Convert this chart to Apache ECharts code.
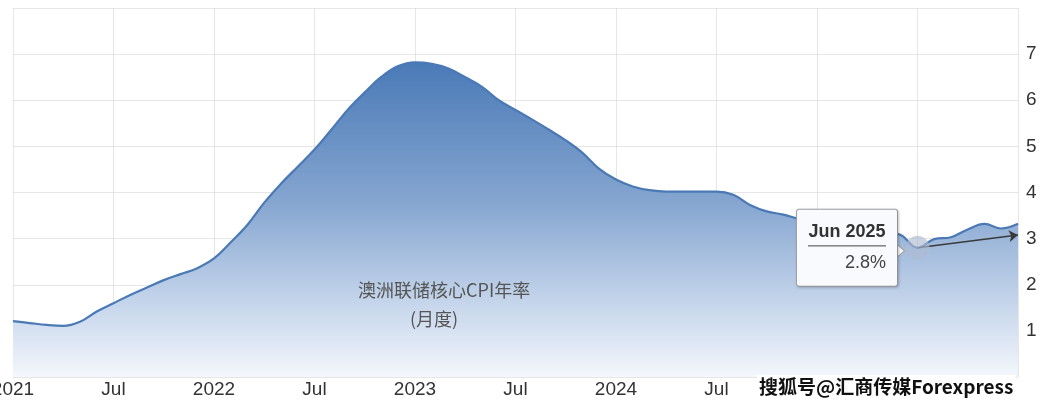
<!DOCTYPE html>
<html><head><meta charset="utf-8">
<script src="https://cdn.jsdelivr.net/npm/echarts@6/dist/echarts.min.js"></script>
<style>html,body{margin:0;padding:0;background:#fff}#c{width:1045px;height:410px}</style>
</head><body><div id="c"></div>
<script>
// Month-end observations, Dec 2020 .. Dec 2025
const months = [
  'Dec 2020',
  'Jan 2021','Feb 2021','Mar 2021','Apr 2021','May 2021','Jun 2021','Jul 2021','Aug 2021','Sep 2021','Oct 2021','Nov 2021','Dec 2021',
  'Jan 2022','Feb 2022','Mar 2022','Apr 2022','May 2022','Jun 2022','Jul 2022','Aug 2022','Sep 2022','Oct 2022','Nov 2022','Dec 2022',
  'Jan 2023','Feb 2023','Mar 2023','Apr 2023','May 2023','Jun 2023','Jul 2023','Aug 2023','Sep 2023','Oct 2023','Nov 2023','Dec 2023',
  'Jan 2024','Feb 2024','Mar 2024','Apr 2024','May 2024','Jun 2024','Jul 2024','Aug 2024','Sep 2024','Oct 2024','Nov 2024','Dec 2024',
  'Jan 2025','Feb 2025','Mar 2025','Apr 2025','May 2025','Jun 2025','Jul 2025','Aug 2025','Sep 2025','Oct 2025','Nov 2025','Dec 2025'
];
const values = [
  1.21,
  1.17, 1.13, 1.11, 1.20, 1.42, 1.60, 1.78, 1.94, 2.10, 2.23, 2.36, 2.57,
  2.92, 3.30, 3.78, 4.19, 4.56, 4.93, 5.36, 5.80, 6.17, 6.51, 6.74, 6.82,
  6.79, 6.69, 6.50, 6.29, 6.00, 5.79, 5.58, 5.36, 5.13, 4.86, 4.51, 4.28,
  4.13, 4.05, 4.02, 4.02, 4.02, 4.02, 3.95, 3.73, 3.59, 3.52, 3.42, 3.35,
  3.28, 3.22, 3.18, 3.15, 3.08, 2.80, 2.99, 3.03, 3.20, 3.32, 3.22, 3.32
];
const xTickLabels = ['2021','Jul','2022','Jul','2023','Jul','2024','Jul','2025','Jul',''];
const yTickLabels = ['', '1', '2', '3', '4', '5', '6', '7', ''];
const titleLines = ['澳洲联储核心CPI年率', '(月度)'];
const watermark = '搜狐号@汇商传媒Forexpress';
const highlightIndex = 54;          // Jun 2025
const arrowEnd = { index: 60, value: 3.08 };

const chart = echarts.init(document.getElementById('c'), null, { renderer: 'canvas' });
const gridLine = { color: 'rgba(205,205,205,0.5)', width: 1 };
const hp = [highlightIndex, values[highlightIndex]];

chart.setOption({
  animation: false,
  backgroundColor: '#fff',
  grid: { left: 13, right: 27, top: 8, bottom: 33, containLabel: false, outerBoundsMode: 'none' },
  xAxis: {
    type: 'value', min: 0, max: 60, interval: 6, z: 3,
    axisLine: { show: false }, axisTick: { show: false },
    splitLine: { show: true, lineStyle: gridLine },
    axisLabel: {
      formatter: v => xTickLabels[Math.round(v / 6)] || '',
      fontSize: 19, color: '#333', margin: 3, fontFamily: 'Liberation Sans, Arial, sans-serif'
    }
  },
  yAxis: {
    type: 'value', position: 'right', min: 0, max: 8, interval: 1, z: 3,
    axisLine: { show: false }, axisTick: { show: false },
    splitLine: { show: true, lineStyle: gridLine },
    axisLabel: {
      formatter: v => yTickLabels[Math.round(v)] || '',
      fontSize: 19, color: '#333', margin: 8, fontFamily: 'Liberation Sans, Arial, sans-serif'
    }
  },
  series: [{
    type: 'line',
    data: values.map((v, i) => [i, v]),
    showSymbol: false, silent: true,
    smooth: 0.4,
    lineStyle: { color: '#4a79b5', width: 2.2 },
    areaStyle: {
      opacity: 1,
      color: new echarts.graphic.LinearGradient(0, 0, 0, 1, [
        { offset: 0, color: '#4a7ab7' },
        { offset: 0.45, color: '#86a6d0' },
        { offset: 0.75, color: '#c2d3ea' },
        { offset: 1, color: '#f4f7fc' }
      ])
    },
    markLine: {
      silent: true, symbol: ['none', 'arrow'], symbolSize: 9,
      label: { show: false },
      lineStyle: { color: '#3a3a3a', width: 1.5, type: 'solid' },
      emphasis: { disabled: true },
      data: [[{ coord: hp }, { coord: [arrowEnd.index, arrowEnd.value] }]]
    },
    markPoint: {
      silent: true,
      data: [
        { coord: hp, symbol: 'circle', symbolSize: 24,
          itemStyle: { color: 'rgba(175,188,210,0.65)' }, label: { show: false } },
        { coord: hp, symbol: 'triangle', symbolSize: [14, 8], symbolRotate: -90, symbolOffset: [-17, 3],
          itemStyle: { color: '#f8fafd', borderColor: '#a4a4a4', borderWidth: 1 }, label: { show: false } },
        { coord: hp, symbol: 'circle', symbolSize: 1, itemStyle: { color: 'rgba(0,0,0,0)' },
          label: {
            show: true, position: 'left', distance: 20,
            formatter: () => '{t|' + months[highlightIndex] + '}\n{hr|}\n{v|' + values[highlightIndex].toFixed(1) + '%}',
            backgroundColor: '#f8fafd', borderColor: '#a4a4a4', borderWidth: 1, borderRadius: 2,
            shadowBlur: 3, shadowColor: 'rgba(0,0,0,0.18)', shadowOffsetX: 1, shadowOffsetY: 1,
            padding: [8, 11, 6, 11],
            rich: {
              t: { fontFamily: 'Liberation Sans, Arial, sans-serif', fontSize: 18, fontWeight: 'bold', color: '#333', align: 'center', width: 78, lineHeight: 28 },
              hr: { width: '100%', height: 0, borderColor: '#666', borderWidth: 0.8 },
              v: { fontFamily: 'Liberation Sans, Arial, sans-serif', fontSize: 18, color: '#444', align: 'right', width: 78, lineHeight: 34 }
            }
          } }
      ]
    }
  }],
  graphic: [
    { type: 'text', left: 358, top: 281, z: 50, silent: true,
      style: { text: titleLines[0], fontSize: 18, fill: '#555', fontFamily: 'Noto Sans CJK SC, sans-serif' } },
    { type: 'text', left: 410, top: 310, z: 50, silent: true,
      style: { text: titleLines[1], fontSize: 18, fill: '#555', fontFamily: 'Noto Sans CJK SC, sans-serif' } },
    { type: 'text', left: 757, top: 375, z: 100, silent: true,
      style: { text: watermark, fontSize: 19, fontWeight: 'bold', fontFamily: 'Noto Sans CJK SC, sans-serif',
               fill: '#111', stroke: '#fff', lineWidth: 2, backgroundColor: '#fff', padding: [2, 2, 2, 2] } }
  ]
});
</script></body></html>
